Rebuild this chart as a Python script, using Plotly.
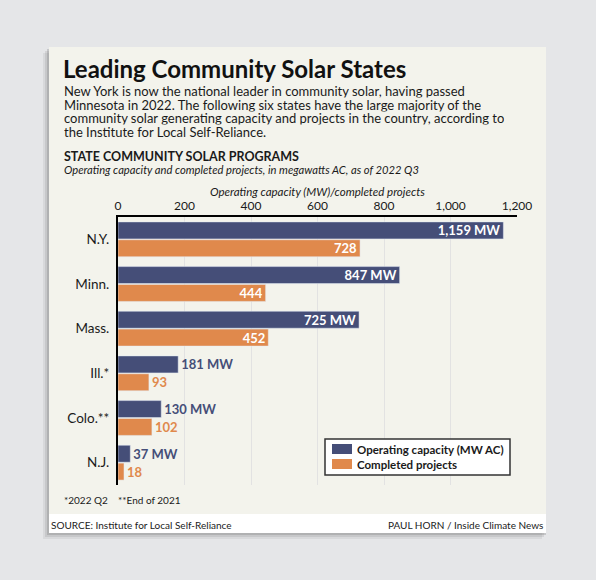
import plotly.graph_objects as go

W, H = 596, 580
FONT = "Lato"

states = ["N.Y.", "Minn.", "Mass.", "Ill.*", "Colo.**", "N.J."]
capacity_mw = [1159, 847, 725, 181, 130, 37]
projects = [728, 444, 452, 93, 102, 18]
x_ticks = [0, 200, 400, 600, 800, 1000, 1200]
x_tick_labels = ["0", "200", "400", "600", "800", "1,000", "1,200"]

NAVY = "#454e78"
ORANGE = "#e0894c"
PAGE = "#e5e6e8"
CARD = "#f3f3ec"
INK = "#1a1a1a"


def px_x(v):
    return v / W


def px_y(v):
    return 1 - v / H


def text_pos(vals, cutoff=400):
    return ["inside" if v > cutoff else "outside" for v in vals]


fig = go.Figure()
fig.add_trace(go.Bar(
    y=states, x=capacity_mw, orientation="h", name="Operating capacity (MW AC)",
    marker_color=NAVY,
    text=[f"{v:,} MW" for v in capacity_mw],
    textposition=text_pos(capacity_mw),
    insidetextanchor="end",
    constraintext="none",
    insidetextfont=dict(color="white", size=13, family=FONT, weight="bold"),
    outsidetextfont=dict(color=NAVY, size=13, family=FONT, weight="bold"),
    cliponaxis=False,
))
fig.add_trace(go.Bar(
    y=states, x=projects, orientation="h", name="Completed projects",
    marker_color=ORANGE,
    text=[f"{v:,}" for v in projects],
    textposition=text_pos(projects),
    insidetextanchor="end",
    constraintext="none",
    insidetextfont=dict(color="white", size=13, family=FONT, weight="bold"),
    outsidetextfont=dict(color=ORANGE, size=13, family=FONT, weight="bold"),
    cliponaxis=False,
))

# card, shadow and footer strip
shapes = []
for off, op in [(6, 0.10), (4, 0.15), (2, 0.25)]:
    shapes.append(dict(type="rect", xref="paper", yref="paper",
                       x0=px_x(49 - off), x1=px_x(546 - off + 2), y0=px_y(533 + off), y1=px_y(47 + off),
                       fillcolor="#6b6b6b", opacity=op, line_width=0, layer="below"))
shapes.append(dict(type="rect", xref="paper", yref="paper",
                   x0=px_x(49), x1=px_x(546), y0=px_y(533), y1=px_y(47),
                   fillcolor=CARD, line_width=0, layer="below"))
shapes.append(dict(type="rect", xref="paper", yref="paper",
                   x0=px_x(49), x1=px_x(546), y0=px_y(533), y1=px_y(514),
                   fillcolor="white", line_width=0, layer="below"))

# legend box
shapes.append(dict(type="rect", xref="paper", yref="paper",
                   x0=px_x(325), x1=px_x(510), y0=px_y(475), y1=px_y(439),
                   fillcolor="white", line=dict(color="#333333", width=1.5)))
shapes.append(dict(type="rect", xref="paper", yref="paper",
                   x0=px_x(332), x1=px_x(352), y0=px_y(454), y1=px_y(444),
                   fillcolor=NAVY, line_width=0))
shapes.append(dict(type="rect", xref="paper", yref="paper",
                   x0=px_x(332), x1=px_x(352), y0=px_y(469), y1=px_y(459),
                   fillcolor=ORANGE, line_width=0))


def note(text, x, y, size, xanchor="left", bold=False, italic=False, color=INK, height=None):
    return dict(text=text, xref="paper", yref="paper", x=px_x(x), y=px_y(y),
                xanchor=xanchor, yanchor="middle", showarrow=False, height=height,
                align="left", font=dict(family=FONT, size=size, color=color,
                                        weight="bold" if bold else "normal",
                                        style="italic" if italic else "normal"))


intro = [
    "New York is now the national leader in community solar, having passed",
    "Minnesota in 2022. The following six states have the large majority of the",
    "community solar generating capacity and projects in the country, according to",
    "the Institute for Local Self-Reliance.",
]

annotations = [note("Leading Community Solar States", 61, 69, 24, bold=True, color="#111111")]
for i, line in enumerate(intro):
    annotations.append(note(line, 62, 91 + i * 13.7, 13, height=13.5))
annotations += [
    note("STATE COMMUNITY SOLAR PROGRAMS", 62, 156, 12.5, bold=True),
    note("Operating capacity and completed projects, in megawatts AC, as of 2022 Q3", 62, 169.5, 11.2, italic=True),
    note("Operating capacity (MW)/completed projects", 317, 191, 11.5, xanchor="center", italic=True),
    note("Operating capacity (MW AC)<br>Completed projects", 355, 457, 11.5, bold=True),
    note("*2022 Q2", 62, 500, 10),
    note("**End of 2021", 116, 500, 10),
    note("SOURCE: Institute for Local Self-Reliance", 49, 524.5, 10),
    note("PAUL HORN / Inside Climate News", 545, 524.5, 10, xanchor="right"),
]

fig.update_layout(
    width=W, height=H,
    autosize=False,
    margin=dict(l=0, r=0, t=0, b=0, autoexpand=False),
    paper_bgcolor=PAGE,
    plot_bgcolor="white",
    barmode="group",
    bargap=0.2,
    bargroupgap=0.05,
    showlegend=False,
    font=dict(family=FONT, color=INK),
    shapes=shapes,
    annotations=annotations,
    xaxis=dict(
        domain=[118 / W, 517 / W],
        range=[0, 1200], side="top",
        tickvals=x_ticks, ticktext=x_tick_labels,
        tickfont=dict(size=12, color=INK),
        showgrid=True, gridcolor="#e2e2e2", gridwidth=1,
        showline=True, linecolor="black", linewidth=2,
        zeroline=False, ticks="", fixedrange=True, automargin=False,
    ),
    yaxis=dict(
        domain=[1 - 485 / H, 1 - 217 / H],
        autorange="reversed",
        tickfont=dict(size=13.5, color=INK),
        showgrid=False,
        showline=True, linecolor="black", linewidth=2,
        ticks="", ticklabelstandoff=4, fixedrange=True, automargin=False,
    ),
)

fig.write_html("out.html", config={"displayModeBar": False},
               post_script="document.body.style.margin='0';")
